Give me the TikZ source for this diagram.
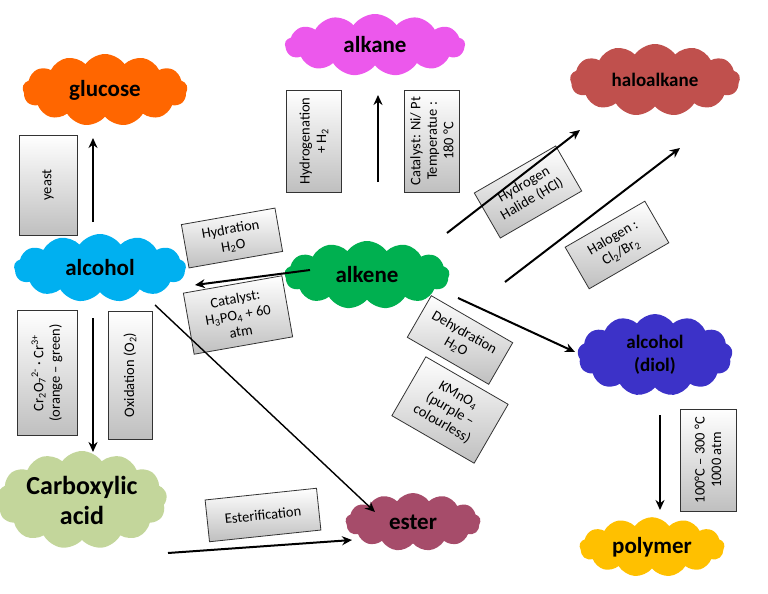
\documentclass[tikz,border=0pt]{standalone}
\usepackage{fontspec}
\setmainfont{Carlito}
\usetikzlibrary{shapes.symbols,arrows.meta}
\definecolor{cglu}{RGB}{255,102,0}
\definecolor{calk}{RGB}{236,88,236}
\definecolor{chalo}{RGB}{192,80,77}
\definecolor{calc}{RGB}{0,176,240}
\definecolor{cene}{RGB}{0,176,80}
\definecolor{cdiol}{RGB}{60,50,200}
\definecolor{cacid}{RGB}{195,214,155}
\definecolor{cest}{RGB}{166,76,106}
\definecolor{cpol}{RGB}{255,192,0}
\tikzset{
 cl/.style={cloud, cloud puffs=13, cloud puff arc=110, aspect=2.4, inner sep=0pt, font=\bfseries\fontsize{23}{26}\selectfont, align=center, draw=none},
 gbox/.style={draw=black!80, thick, top color=white, bottom color=black!25, font=\fontsize{14.5}{16.5}\selectfont, align=center, inner sep=1pt},
 arr/.style={-{Stealth[length=10pt,width=9pt]}, line width=2pt},
}
\begin{document}
\begin{tikzpicture}[x=1pt,y=-1pt]
\useasboundingbox (0,0) rectangle (768,594);
\node[cl, fill=cglu, minimum width=165, minimum height=72] (glu) at (105,90) {glucose};
\node[cl, fill=calk, minimum width=180, minimum height=62] (alk) at (375,45) {alkane};
\node[cl, fill=chalo, minimum width=170, minimum height=72, font=\bfseries\fontsize{19}{22}\selectfont] (halo) at (655,80) {haloalkane};
\node[cl, fill=calc, minimum width=172, minimum height=68] (alc) at (100,268) {alcohol};
\node[cl, fill=cene, minimum width=165, minimum height=68] (ene) at (367,275) {alkene};
\node[cl, fill=cdiol, minimum width=155, minimum height=82, font=\bfseries\fontsize{19}{23}\selectfont] (diol) at (655,355) {alcohol\\(diol)};
\node[cl, fill=cacid, minimum width=170, minimum height=98, font=\bfseries\fontsize{26}{30}\selectfont] (acid) at (82,500) {Carboxylic\\acid};
\node[cl, fill=cest, minimum width=135, minimum height=58] (est) at (413,522) {ester};
\node[cl, fill=cpol, minimum width=145, minimum height=58] (pol) at (652,547) {polymer};

\node[gbox, rotate=90, minimum width=100, minimum height=58] (b1) at (48,185) {yeast};
\node[gbox, rotate=90, minimum width=102, minimum height=55] (b2) at (314,141) {Hydrogenation\\+ H\textsubscript{2}};
\node[gbox, rotate=90, minimum width=102, minimum height=55] (b3) at (432,141) {Catalyst: Ni/ Pt\\Temperatue :\\180 °C};
\node[gbox, rotate=10, minimum width=95, minimum height=44] (b4) at (232,238) {Hydration\\H\textsubscript{2}O};
\node[gbox, rotate=10, minimum width=100, minimum height=62] (b5) at (238,315) {Catalyst:\\H\textsubscript{3}PO\textsubscript{4} + 60\\atm};
\node[gbox, rotate=30, minimum width=94, minimum height=52] (b6) at (528,192) {Hydrogen\\Halide (HCl)};
\node[gbox, rotate=30, minimum width=92, minimum height=48] (b7) at (617,245) {Halogen :\\Cl\textsubscript{2}/Br\textsubscript{2}};
\node[gbox, rotate=-30, minimum width=94, minimum height=48] (b8) at (460,340) {Dehydration\\H\textsubscript{2}O};
\node[gbox, rotate=-30, minimum width=95, minimum height=68] (b9) at (450,410) {KMnO\textsubscript{4}\\(purple --\\colourless)};
\node[gbox, rotate=90, minimum width=125, minimum height=60] (b10) at (47,373) {Cr\textsubscript{2}O\textsubscript{7}\textsuperscript{2-} · Cr\textsuperscript{3+}\\(orange -- green)};
\node[gbox, rotate=90, minimum width=128, minimum height=44] (b11) at (130,375) {Oxidation (O\textsubscript{2})};
\node[gbox, rotate=6, minimum width=112, minimum height=42] (b12) at (263,515) {Esterification};
\node[gbox, rotate=90, minimum width=102, minimum height=56] (b13) at (708,460) {100°C -- 300 °C\\1000 atm};

\coordinate (a1) at (93,222); \coordinate (a2) at (93,138);
\coordinate (c1) at (378,182); \coordinate (c2) at (378,95);
\coordinate (d1) at (447,233); \coordinate (d2) at (580,130);
\coordinate (e1) at (505,282); \coordinate (e2) at (680,148);
\coordinate (f1) at (310,270); \coordinate (f2) at (195,285);
\coordinate (g1) at (458,298); \coordinate (g2) at (575,352);
\coordinate (h1) at (93,318); \coordinate (h2) at (93,452);
\coordinate (i1) at (155,305); \coordinate (i2) at (375,512);
\coordinate (j1) at (168,553); \coordinate (j2) at (352,540);
\coordinate (k1) at (660,415); \coordinate (k2) at (660,510);
\draw[arr] (a1) -- (a2);
\draw[arr] (c1) -- (c2);
\draw[arr] (d1) -- (d2);
\draw[arr] (e1) -- (e2);
\draw[arr] (f1) -- (f2);
\draw[arr] (g1) -- (g2);
\draw[arr] (h1) -- (h2);
\draw[arr, line width=1.4pt] (i1) -- (i2);
\draw[arr] (j1) -- (j2);
\draw[arr] (k1) -- (k2);
\end{tikzpicture}
\end{document}
